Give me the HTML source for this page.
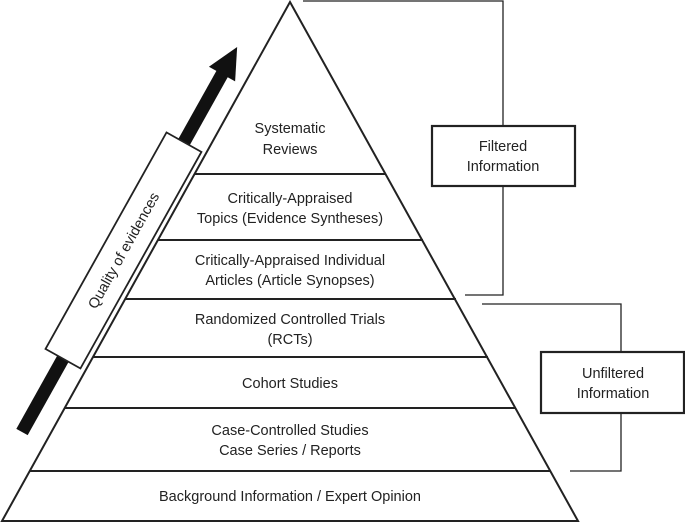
<!DOCTYPE html>
<html><head><style>
html,body{margin:0;padding:0;background:#fff;}
svg{display:block;}
text{font-family:"Liberation Sans",Arial,sans-serif;font-size:14.5px;fill:#222;}
</style></head><body>
<svg width="685" height="523" viewBox="0 0 685 523" xmlns="http://www.w3.org/2000/svg">
<g stroke="#222" fill="none">
<polygon points="290,2 578,521 2,521" stroke-width="2" fill="#fff"/>
<g stroke-width="2">
<line x1="194" y1="174" x2="386" y2="174"/>
<line x1="158" y1="240" x2="423" y2="240"/>
<line x1="125" y1="299" x2="456" y2="299"/>
<line x1="93" y1="357" x2="488" y2="357"/>
<line x1="64" y1="408" x2="516" y2="408"/>
<line x1="29" y1="471" x2="551" y2="471"/>
</g>
<polyline points="303,1 503,1 503,126" stroke-width="1.3"/>
<polyline points="503,186 503,295 465,295" stroke-width="1.3"/>
<rect x="432" y="126" width="143" height="60" stroke-width="2.2" fill="#fff"/>
<polyline points="482,304 621,304 621,352" stroke-width="1.3"/>
<polyline points="621,413 621,471 570,471" stroke-width="1.3"/>
<rect x="541" y="352" width="143" height="61" stroke-width="2.2" fill="#fff"/>
</g>
<g transform="translate(22,432) rotate(-60.8)">
<rect x="0" y="-6.5" width="415" height="13" fill="#111"/>
<polygon points="410,-15 441,0 410,15" fill="#111"/>
<rect x="84" y="-20" width="248" height="40" fill="#fff" stroke="#222" stroke-width="1.8"/>
<text x="208" y="5" text-anchor="middle" font-size="15">Quality of evidences</text>
</g>
<g text-anchor="middle">
<text x="290" y="133">Systematic</text>
<text x="290" y="154">Reviews</text>
<text x="290" y="203">Critically-Appraised</text>
<text x="290" y="223">Topics (Evidence Syntheses)</text>
<text x="290" y="265">Critically-Appraised Individual</text>
<text x="290" y="285">Articles (Article Synopses)</text>
<text x="290" y="324">Randomized Controlled Trials</text>
<text x="290" y="344">(RCTs)</text>
<text x="290" y="388">Cohort Studies</text>
<text x="290" y="435">Case-Controlled Studies</text>
<text x="290" y="455">Case Series / Reports</text>
<text x="290" y="501">Background Information / Expert Opinion</text>
<text x="503" y="151">Filtered</text>
<text x="503" y="171">Information</text>
<text x="613" y="378">Unfiltered</text>
<text x="613" y="398">Information</text>
</g>
</svg>
</body></html>
